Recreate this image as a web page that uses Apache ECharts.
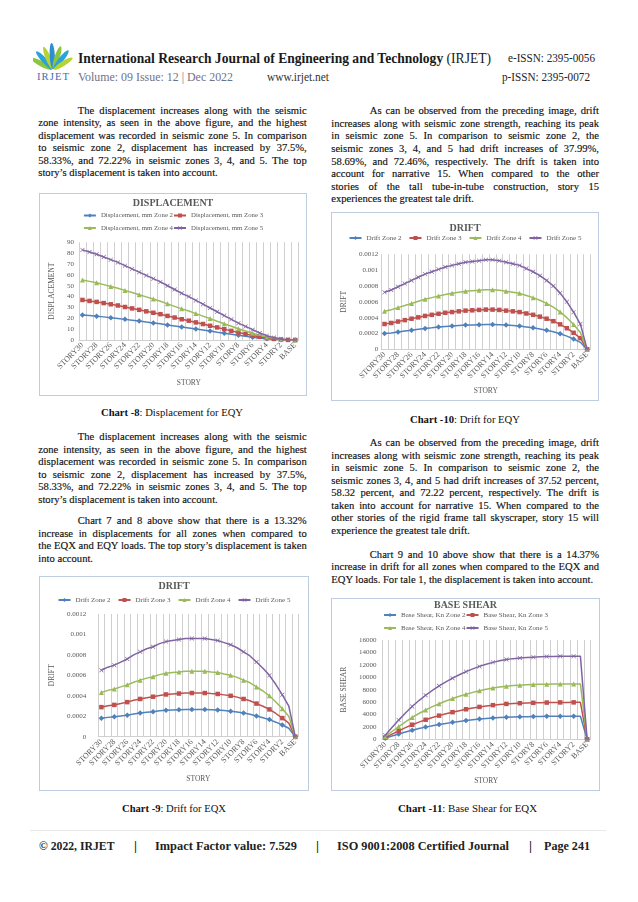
<!DOCTYPE html>
<html><head><meta charset="utf-8">
<script src="https://cdn.jsdelivr.net/npm/echarts@6/dist/echarts.min.js"></script>
<style>
html,body{margin:0;padding:0;background:#fff;}
#page{position:relative;width:638px;height:902px;overflow:hidden;font-family:'Liberation Serif','Times New Roman',serif;color:#231f20;}
.abs{position:absolute;white-space:nowrap;line-height:1;}
.ln{position:absolute;white-space:nowrap;font-size:10.6px;line-height:12.5px;height:12.5px;color:#111;-webkit-text-stroke:0.15px #111;}
.box{position:absolute;border:1px solid #bfcde0;box-sizing:border-box;background:#fff;}
.box > div{position:absolute;left:0;top:0;right:0;bottom:0;}
</style></head>
<body>
<div id="page">
  <svg style="position:absolute;left:33px;top:40px" width="40" height="32" viewBox="0 0 40 32">
    <g transform="translate(20,30)">
      <ellipse cx="0" cy="-13" rx="2.6" ry="12" fill="#8cc63f" transform="rotate(-62)"/>
      <ellipse cx="0" cy="-13" rx="2.6" ry="12" fill="#29a3dc" transform="rotate(-42)"/>
      <ellipse cx="0" cy="-13" rx="2.6" ry="12" fill="#b5d334" transform="rotate(-22)"/>
      <ellipse cx="0" cy="-14" rx="2.6" ry="13" fill="#2d8fd0" transform="rotate(-3)"/>
      <ellipse cx="0" cy="-13" rx="2.6" ry="12" fill="#8cc63f" transform="rotate(18)"/>
      <ellipse cx="0" cy="-13" rx="2.6" ry="12" fill="#29a3dc" transform="rotate(38)"/>
      <ellipse cx="0" cy="-12" rx="2.4" ry="11" fill="#b5d334" transform="rotate(58)"/>
    </g>
  </svg>
  <div class="box" id="b8" style="left:39px;top:193px;width:268px;height:203px;"><div id="c8"></div></div>
  <div class="box" id="b9" style="left:39px;top:576px;width:270px;height:215px;"><div id="c9"></div></div>
  <div class="box" id="b10" style="left:331px;top:212px;width:268px;height:189px;"><div id="c10"></div></div>
  <div class="box" id="b11" style="left:331px;top:598px;width:269px;height:193px;"><div id="c11"></div></div>
  <div style="position:absolute;left:30px;top:830px;width:576px;height:1px;background:#e8e8e8;"></div>
</div>
<script>
// ---------- data ----------
const stories = ['STORY30','STORY29','STORY28','STORY27','STORY26','STORY25','STORY24','STORY23','STORY22','STORY21','STORY20','STORY19','STORY18','STORY17','STORY16','STORY15','STORY14','STORY13','STORY12','STORY11','STORY10','STORY9','STORY8','STORY7','STORY6','STORY5','STORY4','STORY3','STORY2','STORY1','BASE'];

const dispNames = ['Displacement, mm Zone 2','Displacement, mm Zone 3','Displacement, mm Zone 4','Displacement, mm Zone 5'];
const dispZone2 = [23.1,22.5,21.9,21.3,20.6,19.9,19.0,18.2,17.4,16.5,15.7,14.9,13.9,12.9,11.9,11.1,10.1,9.2,8.2,7.2,6.3,5.3,4.3,3.5,2.6,1.8,1.1,0.6,0.3,0.1,0];
const dispZone3 = [36.9,36.0,35.1,34.0,32.9,31.8,30.4,29.1,27.8,26.4,25.1,23.8,22.2,20.7,19.1,17.8,16.2,14.7,13.1,11.6,10.0,8.4,6.9,5.6,4.2,2.9,1.8,1.0,0.4,0.1,0];
const dispZone4 = [55.3,54.0,52.7,51.0,49.3,47.7,45.7,43.7,41.7,39.7,37.7,35.7,33.3,31.0,28.7,26.7,24.3,22.0,19.7,17.3,15.0,12.7,10.3,8.3,6.3,4.3,2.7,1.5,0.7,0.2,0];
const dispZone5 = [83,81,79,76.5,74,71.5,68.5,65.5,62.5,59.5,56.5,53.5,50,46.5,43,40,36.5,33,29.5,26,22.5,19,15.5,12.5,9.5,6.5,4,2.2,1,0.3,0];
const dispAxis = [0, 90, 10];

const driftNames = ['Drift Zone 2','Drift Zone 3','Drift Zone 4','Drift Zone 5'];
const driftEqxZone2 = [0.000181,0.000189,0.000194,0.000203,0.000211,0.000222,0.000231,0.000239,0.000244,0.000253,0.000258,0.000261,0.000264,0.000267,0.000267,0.000267,0.000267,0.000264,0.000261,0.000256,0.000250,0.000242,0.000231,0.000219,0.000203,0.000186,0.000167,0.000142,0.000114,0.000083,0];
const driftEqxZone3 = [0.000289,0.000302,0.000311,0.000324,0.000338,0.000356,0.000369,0.000382,0.000391,0.000404,0.000413,0.000418,0.000422,0.000427,0.000427,0.000427,0.000427,0.000422,0.000418,0.000409,0.000400,0.000387,0.000369,0.000351,0.000324,0.000298,0.000267,0.000227,0.000182,0.000133,0];
const driftEqxZone4 = [0.000433,0.000453,0.000467,0.000487,0.000507,0.000533,0.000553,0.000573,0.000587,0.000607,0.000620,0.000627,0.000633,0.000640,0.000640,0.000640,0.000640,0.000633,0.000627,0.000613,0.000600,0.000580,0.000553,0.000527,0.000487,0.000447,0.000400,0.000340,0.000273,0.000200,0];
const driftEqxZone5 = [0.00065,0.00068,0.00070,0.00073,0.00076,0.00080,0.00083,0.00086,0.00088,0.00091,0.00093,0.00094,0.00095,0.00096,0.00096,0.00096,0.00096,0.00095,0.00094,0.00092,0.00090,0.00087,0.00083,0.00079,0.00073,0.00067,0.00060,0.00051,0.00041,0.00030,0];

const driftEqyZone2 = [0.000200,0.000208,0.000219,0.000231,0.000242,0.000253,0.000264,0.000272,0.000281,0.000289,0.000294,0.000300,0.000306,0.000308,0.000311,0.000314,0.000314,0.000311,0.000306,0.000300,0.000294,0.000283,0.000272,0.000258,0.000242,0.000222,0.000197,0.000167,0.000131,0.000089,0];
const driftEqyZone3 = [0.000320,0.000333,0.000351,0.000369,0.000387,0.000404,0.000422,0.000436,0.000449,0.000462,0.000471,0.000480,0.000489,0.000493,0.000498,0.000502,0.000502,0.000498,0.000489,0.000480,0.000471,0.000453,0.000436,0.000413,0.000387,0.000356,0.000316,0.000267,0.000209,0.000142,0];
const driftEqyZone4 = [0.000480,0.000500,0.000527,0.000553,0.000580,0.000607,0.000633,0.000653,0.000673,0.000693,0.000707,0.000720,0.000733,0.000740,0.000747,0.000753,0.000753,0.000747,0.000733,0.000720,0.000707,0.000680,0.000653,0.000620,0.000580,0.000533,0.000473,0.000400,0.000313,0.000213,0];
const driftEqyZone5 = [0.00072,0.00075,0.00079,0.00083,0.00087,0.00091,0.00095,0.00098,0.00101,0.00104,0.00106,0.00108,0.00110,0.00111,0.00112,0.00113,0.00113,0.00112,0.00110,0.00108,0.00106,0.00102,0.00098,0.00093,0.00087,0.00080,0.00071,0.00060,0.00047,0.00032,0];
const driftAxis = [0, 0.0012, 0.0002];

const shearNames = ['Base Shear, Kn Zone 2','Base Shear, Kn Zone 3','Base Shear, Kn Zone 4','Base Shear, Kn Zone 5'];
const shearZone2 = [181,528,861,1181,1472,1736,1972,2194,2389,2569,2736,2889,3028,3153,3264,3361,3444,3514,3569,3611,3639,3661,3678,3692,3703,3711,3717,3719,3722,3722,0];
const shearZone3 = [289,844,1378,1889,2356,2778,3156,3511,3822,4111,4378,4622,4844,5044,5222,5378,5511,5622,5711,5778,5822,5858,5884,5907,5924,5938,5947,5951,5956,5956,0];
const shearZone4 = [433,1267,2067,2833,3533,4167,4733,5267,5733,6167,6567,6933,7267,7567,7833,8067,8267,8433,8567,8667,8733,8787,8827,8860,8887,8907,8920,8927,8933,8933,0];
const shearZone5 = [650,1900,3100,4250,5300,6250,7100,7900,8600,9250,9850,10400,10900,11350,11750,12100,12400,12650,12850,13000,13100,13180,13240,13290,13330,13360,13380,13390,13400,13400,0];
const shearAxis = [0, 16000, 2000];

// ---------- styles ----------
const FF = "'Liberation Serif','Times New Roman',serif";
const GREY = '#595959';
const palette = ['#4F81BD','#C0504D','#9BBB59','#8064A2'];
const symbols = ['diamond','rect','triangle','path://M0,1L1,0L5,4L9,0L10,1L6,5L10,9L9,10L5,6L1,10L0,9L4,5Z'];
const symSizes = [5.5,4.5,5,4.5];

function buildOption(c) {
  return {
    animation: false,
    title: { text: c.title, left: 'center', top: c.titleTop, padding: 0,
      textStyle: { fontFamily: FF, fontSize: 10, fontWeight: 'bold', color: GREY } },
    legend: c.legendRows.map(r => ({
      data: r.names, top: r.top, left: 'center', padding: 0,
      itemWidth: 12, itemHeight: 5, itemGap: c.legendGap,
      textStyle: { fontFamily: FF, fontSize: c.legendFont, color: GREY }
    })),
    grid: c.grid,
    xAxis: {
      type: 'category', data: stories, boundaryGap: true,
      name: 'STORY', nameLocation: 'middle', nameGap: c.xNameGap,
      nameTextStyle: { fontFamily: FF, fontSize: 7.5, color: GREY },
      axisLine: { lineStyle: { color: '#d0d0d0', width: 1 } },
      axisTick: { show: false },
      axisLabel: { interval: 1, rotate: 45, margin: 4, fontFamily: FF, fontSize: 8, color: GREY },
      splitLine: { show: true, interval: 0, lineStyle: { color: '#cfcfcf', width: 1 } }
    },
    yAxis: {
      type: 'value', min: c.axis[0], max: c.axis[1], interval: c.axis[2],
      name: c.yName, nameLocation: 'middle', nameRotate: 90, nameGap: c.yNameGap,
      nameTextStyle: { fontFamily: FF, fontSize: 7.5, color: GREY },
      axisLine: { show: false }, axisTick: { show: false },
      axisLabel: { margin: c.yLabelMargin, fontFamily: FF, fontSize: 7, color: GREY,
        formatter: v => String(parseFloat(v.toFixed(6))) },
      splitLine: { show: false }
    },
    series: c.names.map((n, i) => ({
      name: n, type: 'line', data: c.values[i],
      symbol: symbols[i], symbolSize: symSizes[i], showSymbol: true,
      lineStyle: { width: 1.5, color: palette[i] },
      itemStyle: { color: palette[i] }, z: 2 + i
    }))
  };
}

const charts = [
  { id: 'c8', title: 'DISPLACEMENT', titleTop: 4,
    legendRows: [{ names: dispNames.slice(0,2), top: 18 }, { names: dispNames.slice(2,4), top: 30.5 }],
    legendGap: 0, legendFont: 6.8,
    grid: { left: 29.6, right: 7.3, top: 48.3, bottom: 55 },
    axis: dispAxis, yName: 'DISPLACEMENT', yNameGap: 15, xNameGap: 39, yLabelMargin: 5,
    names: dispNames, values: [dispZone2, dispZone3, dispZone4, dispZone5] },
  { id: 'c9', title: 'DRIFT', titleTop: 4,
    legendRows: [{ names: driftNames, top: 19.5 }],
    legendGap: 7, legendFont: 7,
    grid: { left: 41.5, right: 9.5, top: 37, bottom: 53.3 },
    axis: driftAxis, yName: 'DRIFT', yNameGap: 27, xNameGap: 38.5, yLabelMargin: 12,
    names: driftNames, values: [driftEqxZone2, driftEqxZone3, driftEqxZone4, driftEqxZone5] },
  { id: 'c10', title: 'DRIFT', titleTop: 10,
    legendRows: [{ names: driftNames, top: 21.5 }],
    legendGap: 7, legendFont: 7,
    grid: { left: 42.2, right: 7.5, top: 41.3, bottom: 46.7 },
    axis: driftAxis, yName: 'DRIFT', yNameGap: 33, xNameGap: 34.6, yLabelMargin: 3,
    names: driftNames, values: [driftEqyZone2, driftEqyZone3, driftEqyZone4, driftEqyZone5] },
  { id: 'c11', title: 'BASE SHEAR', titleTop: 1.5,
    legendRows: [{ names: shearNames.slice(0,2), top: 12.5 }, { names: shearNames.slice(2,4), top: 25.5 }],
    legendGap: 0, legendFont: 7,
    grid: { left: 41.2, right: 8.5, top: 41, bottom: 48.3 },
    axis: shearAxis, yName: 'BASE SHEAR', yNameGap: 31.7, xNameGap: 33.5, yLabelMargin: 5.5,
    names: shearNames, values: [shearZone2, shearZone3, shearZone4, shearZone5] }
];
charts.forEach(c => {
  const inst = echarts.init(document.getElementById(c.id), null, { renderer: 'canvas' });
  inst.setOption(buildOption(c));
});

// ---------- page text ----------
const page = document.getElementById('page');
function addFit(html, left, right, cy, css) {
  const d = document.createElement('div');
  d.className = 'abs'; d.innerHTML = html; d.style.cssText += css;
  page.appendChild(d);
  const r = d.getBoundingClientRect();
  d.style.left = left + 'px';
  d.style.top = (cy - r.height / 2) + 'px';
  d.style.transformOrigin = 'left center';
  d.style.transform = 'scaleX(' + ((right - left) / r.width) + ')';
}
function addPara(lines, x, w, y0, lh, indent) {
  lines.forEach((t, i) => {
    const d = document.createElement('div');
    d.className = 'ln'; d.textContent = t;
    const ind = i === 0 ? indent : 0;
    d.style.left = (x + ind) + 'px';
    d.style.top = (y0 + i * lh - 6.25) + 'px';
    page.appendChild(d);
    if (i < lines.length - 1) {
      const nat = d.getBoundingClientRect().width;
      const sp = (t.match(/ /g) || []).length;
      if (sp) d.style.wordSpacing = ((w - ind - nat) / sp) + 'px';
    }
  });
}

// header
addFit('<b>International Research Journal of Engineering and Technology</b> (IRJET)', 78, 491, 58, 'font-size:15px;color:#1a1a1a;');
addFit('e-ISSN: 2395-0056', 508, 595, 58, 'font-size:12px;color:#222;');
addFit('Volume: 09 Issue: 12 | Dec 2022', 78, 233, 76.5, 'font-size:12px;color:#6f7285;');
addFit('www.irjet.net', 267, 329, 76.5, 'font-size:12px;color:#333;');
addFit('p-ISSN: 2395-0072', 502, 590, 76.5, 'font-size:12px;color:#222;');
addFit('IRJET', 37, 70, 77, 'font-size:10px;color:#3a6fb5;letter-spacing:1px;');

// footer
addFit('© 2022, IRJET', 39, 114.5, 846, 'font-size:12px;font-weight:bold;color:#222;');
addFit('|', 134, 137, 846, 'font-size:12px;font-weight:bold;color:#222;');
addFit('Impact Factor value: 7.529', 155, 297, 846, 'font-size:12px;font-weight:bold;color:#222;');
addFit('|', 316, 319, 846, 'font-size:12px;font-weight:bold;color:#222;');
addFit('ISO 9001:2008 Certified Journal', 337, 509, 846, 'font-size:12px;font-weight:bold;color:#222;');
addFit('|', 529, 532, 846, 'font-size:12px;font-weight:bold;color:#222;');
addFit('Page 241', 544, 590, 846, 'font-size:12px;font-weight:bold;color:#222;');

// captions
addFit('<b>Chart -8</b>: Displacement for EQY', 101, 243, 412, 'font-size:11px;color:#111;');
addFit('<b>Chart -9</b>: Drift for EQX', 121.5, 225.4, 808.5, 'font-size:11px;color:#111;');
addFit('<b>Chart -10</b>: Drift for EQY', 409.7, 519.7, 419.3, 'font-size:11px;color:#111;');
addFit('<b>Chart -11</b>: Base Shear for EQX', 398, 537, 808.5, 'font-size:11px;color:#111;');

const dispPara = [
  'The displacement increases along with the seismic',
  'zone intensity, as seen in the above figure, and the highest',
  'displacement was recorded in seismic zone 5. In comparison',
  'to seismic zone 2, displacement has increased by 37.5%,',
  '58.33%, and 72.22% in seismic zones 3, 4, and 5. The top',
  'story\u2019s displacement is taken into account.'
];
addPara(dispPara, 38.3, 268.4, 111, 12.5, 39.5);
addPara(dispPara, 38.3, 268.4, 437.5, 12.5, 39.5);
addPara([
  'Chart 7 and 8 above show that there is a 13.32%',
  'increase in displacements for all zones when compared to',
  'the EQX and EQY loads. The top story\u2019s displacement is taken',
  'into account.'
], 38.3, 268.4, 521.5, 12.5, 39.5);

addPara([
  'As can be observed from the preceding image, drift',
  'increases along with seismic zone strength, reaching its peak',
  'in seismic zone 5. In comparison to seismic zone 2, the',
  'seismic zones 3, 4, and 5 had drift increases of 37.99%,',
  '58.69%, and 72.46%, respectively. The drift is taken into',
  'account for narrative 15. When compared to the other',
  'stories of the tall tube-in-tube construction, story 15',
  'experiences the greatest tale drift.'
], 331.3, 267.7, 111.5, 12.6, 38.5);
addPara([
  'As can be observed from the preceding image, drift',
  'increases along with seismic zone strength, reaching its peak',
  'in seismic zone 5. In comparison to seismic zone 2, the',
  'seismic zones 3, 4, and 5 had drift increases of 37.52 percent,',
  '58.32 percent, and 72.22 percent, respectively. The drift is',
  'taken into account for narrative 15. When compared to the',
  'other stories of the rigid frame tall skyscraper, story 15 will',
  'experience the greatest tale drift.'
], 331.3, 267.7, 443.3, 12.5, 38.5);
addPara([
  'Chart 9 and 10 above show that there is a 14.37%',
  'increase in drift for all zones when compared to the EQX and',
  'EQY loads. For tale 1, the displacement is taken into account.'
], 331.3, 267.7, 555, 12.5, 38.5);
</script>
</body></html>
